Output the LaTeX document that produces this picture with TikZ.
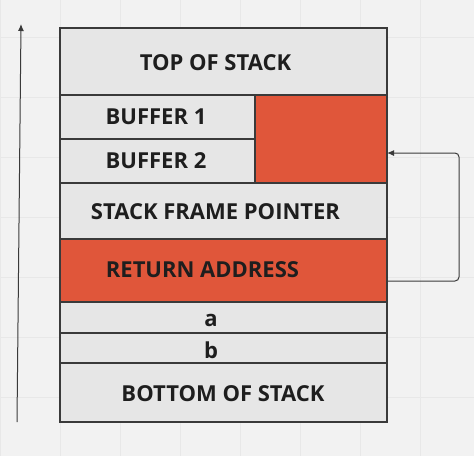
\documentclass[tikz,border=0pt]{standalone}
\usepackage{fontspec}
\setmainfont{Open Sans}
\usetikzlibrary{arrows.meta}
\definecolor{bg}{HTML}{F2F2F2}
\definecolor{gridc}{HTML}{E8E8E8}
\definecolor{cell}{HTML}{E6E6E6}
\definecolor{hot}{HTML}{E0563A}
\definecolor{ink}{HTML}{1E1E1E}
\definecolor{edge}{HTML}{3A3A3A}
\tikzset{
  cellbox/.style={draw=edge, line width=1.3pt, fill=cell, anchor=north west, inner sep=0pt, outer sep=0pt},
  hotbox/.style={cellbox, fill=hot},
  lbl/.style={font=\bfseries\fontsize{22}{26}\selectfont, text=ink, inner sep=0pt},
  conn/.style={draw=edge, line width=1pt, -{Latex[length=7pt,width=6pt]}}
}
\begin{document}
\begin{tikzpicture}[x=1pt,y=-1pt]
\fill[bg] (0,0) rectangle (474,456);
\useasboundingbox (0,0) rectangle (474,456);
\foreach \x in {0,60,...,480} \draw[gridc, line width=0.7pt] (\x,0) -- (\x,456);
\foreach \y in {37,97,...,456} \draw[gridc, line width=0.7pt] (0,\y) -- (474,\y);
% boxes
\node[cellbox, minimum width=327pt, minimum height=67pt] (top) at (60,28) {};
\node[cellbox, minimum width=195pt, minimum height=44pt] (buf1) at (60,95) {};
\node[cellbox, minimum width=195pt, minimum height=44pt] (buf2) at (60,139) {};
\node[hotbox, minimum width=132pt, minimum height=88pt] (ovf) at (255,95) {};
\node[cellbox, minimum width=327pt, minimum height=56pt] (sfp) at (60,183) {};
\node[hotbox, minimum width=327pt, minimum height=63pt] (ret) at (60,239) {};
\node[cellbox, minimum width=327pt, minimum height=31pt] (va) at (60,302) {};
\node[cellbox, minimum width=327pt, minimum height=30pt] (vb) at (60,333) {};
\node[cellbox, minimum width=327pt, minimum height=59pt] (bot) at (60,363) {};
% labels
\node[lbl] (ttop) at (215.5,63) {TOP OF STACK};
\node[lbl] (tb1) at (156,117) {BUFFER 1};
\node[lbl] (tb2) at (156,161) {BUFFER 2};
\node[lbl] (tsfp) at (215.5,212) {STACK FRAME POINTER};
\node[lbl] (tret) at (202.5,270) {RETURN ADDRESS};
\node[lbl] (ta) at (211,320) {a};
\node[lbl] (tb) at (211,350) {b};
\node[lbl] (tbot) at (223,394) {BOTTOM OF STACK};
% growth arrow
\coordinate (g0) at (17,422);
\coordinate (g1) at (21,24);
\draw[conn] (g0) -- (g1);
% overflow connector
\coordinate (r0) at (387,281);
\coordinate (r1) at (459,281);
\coordinate (r2) at (459,153);
\coordinate (r3) at (387,153);
\draw[conn, rounded corners=4pt] (r0) -- (r1) -- (r2) -- (r3);
\end{tikzpicture}
\end{document}
